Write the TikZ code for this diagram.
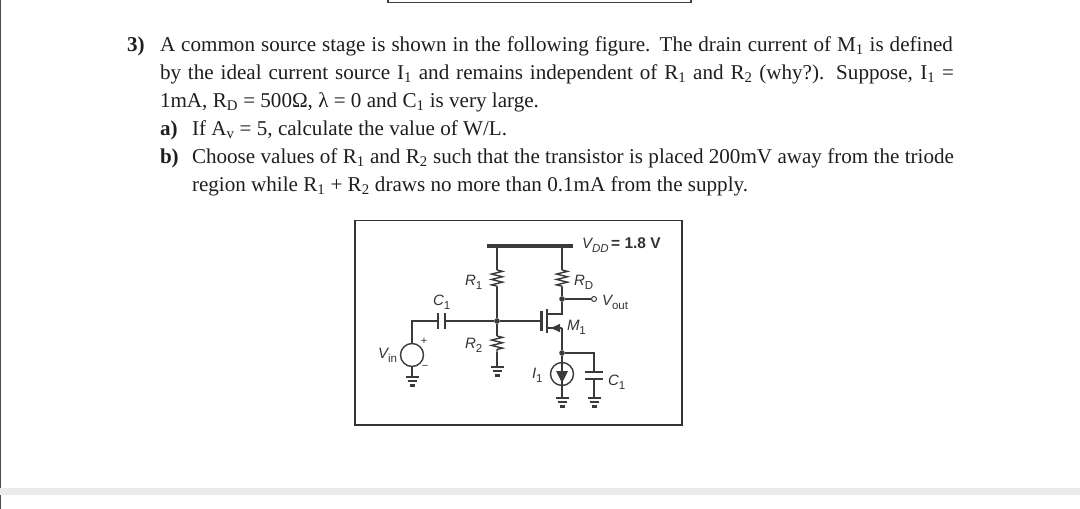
\documentclass[tikz,border=0pt]{standalone}
\usepackage{fontspec}
\setmainfont{Liberation Serif}
\newfontfamily\lblfont{Liberation Sans}
\usetikzlibrary{arrows.meta,decorations.pathmorphing}
\definecolor{wirec}{HTML}{3A3A3A}
\definecolor{inkc}{HTML}{1E1E1E}
\definecolor{lblc}{HTML}{333333}
\tikzset{
  txt/.style={anchor=base west,inner sep=0pt,outer sep=0pt,text=inkc,font=\fontsize{21.1}{26}\selectfont},
  lbl/.style={anchor=base west,inner sep=0pt,outer sep=0pt,text=lblc,font=\lblfont\fontsize{15}{17}\selectfont\itshape},
  wire/.style={draw=wirec,line width=1.4pt},
  plate/.style={draw=wirec,line width=2.6pt},
  resistor/.style={wire,decorate,decoration={zigzag,amplitude=5.5pt,segment length=5.4pt}},
  junction/.style={circle,fill=wirec,inner sep=0pt,minimum size=5.6pt},
  openpin/.style={circle,draw=wirec,fill=white,line width=1pt,inner sep=0pt,minimum size=5pt},
  source/.style={circle,draw=wirec,line width=1.4pt,inner sep=0pt,minimum size=23pt},
  gnd/.pic={
    \draw[wirec,line width=2.2pt] (-6.5,0) -- (6.5,0);
    \draw[wirec,line width=2.2pt] (-4.5,4.2) -- (4.5,4.2);
    \draw[wirec,line width=2.2pt] (-2.5,8.4) -- (2.5,8.4);
  }
}
\newcommand{\sbs}[1]{\textsubscript{#1}}
\newcommand{\lsb}[1]{\raisebox{-0.28em}{\fontsize{11.5}{13}\selectfont\upshape #1}}
\newcommand{\lsi}[1]{\raisebox{-0.28em}{\fontsize{11.5}{13}\selectfont #1}}
\begin{document}
\begin{tikzpicture}[x=1pt,y=-1pt]
\useasboundingbox (0,0) rectangle (1080,509);
% page furniture
\draw[draw=black!70,line width=1pt] (0.5,0) -- (0.5,509);
\fill[black!8] (0,487.5) rectangle (1080,495);
\draw[draw=black!75,line width=1.3pt] (388,0) -- (388,2.5) -- (691,2.5) -- (691,0);
% text
\node[txt] (num) at (127,51) {\textbf{3)}};
\node[txt] (l1) at (160,51) {\makebox[793pt][s]{A common source stage is shown in the following figure. The drain current of M\sbs{1} is defined}};
\node[txt] (l2) at (160,79) {\makebox[794pt][s]{by the ideal current source I\sbs{1} and remains independent of R\sbs{1} and R\sbs{2} (why?). Suppose, I\sbs{1} =}};
\node[txt] (l3) at (160,107) {1mA, R\sbs{D} = 500Ω, λ = 0 and C\sbs{1} is very large.};
\node[txt] (a) at (160,135) {\textbf{a)}};
\node[txt] (l4) at (192,135) {If A\sbs{v} = 5, calculate the value of W/L.};
\node[txt] (b) at (160,163) {\textbf{b)}};
\node[txt] (l5) at (192,163) {\makebox[762pt][s]{Choose values of R\sbs{1} and R\sbs{2} such that the transistor is placed 200mV away from the triode}};
\node[txt] (l6) at (192,191) {region while R\sbs{1} + R\sbs{2} draws no more than 0.1mA from the supply.};
% frame
\draw[draw=black!80,line width=1.3pt] (355,220.5) rectangle (682,425);
% coordinates
\coordinate (vddl) at (487,246); \coordinate (vddr) at (573,246);
\coordinate (r1top) at (497,246); \coordinate (rdtop) at (562,246);
\coordinate (r1a) at (497,270); \coordinate (r1b) at (497,287);
\coordinate (rda) at (562,270); \coordinate (rdb) at (562,287);
\coordinate (r2a) at (497,336); \coordinate (r2b) at (497,352);
\coordinate (gndr2) at (497,367);
\coordinate (chd) at (547,314); \coordinate (chs) at (547,328);
\coordinate (dk) at (562,314); \coordinate (sk) at (562,328);
\coordinate (gp) at (541.5,321);
\coordinate (gt) at (541.5,311); \coordinate (gbm) at (541.5,331);
\coordinate (cht) at (547,309); \coordinate (chb) at (547,333);
\coordinate (vintop) at (412,321);
\coordinate (c1l) at (438,321); \coordinate (c1r) at (445,321);
\coordinate (gndvin) at (412,377);
\coordinate (cpr) at (594,353);
\coordinate (cpt) at (594,372); \coordinate (cpb) at (594,379);
\coordinate (gndi) at (562,398); \coordinate (gndc) at (594,398);
\node[junction] (ng) at (497,321) {};
\node[junction] (nd) at (562,299) {};
\node[junction] (ns) at (562,353) {};
\node[openpin] (vo) at (594,299) {};
\node[source] (vin) at (412,355) {};
\node[source] (i1) at (562,374) {};
% supply rail
\draw[draw=wirec,line width=3.6pt] (vddl) -- (vddr);
% wires
\draw[wire] (r1top) -- (r1a);
\draw[resistor] (r1a) -- (r1b);
\draw[wire] (r1b) -- (ng);
\draw[wire] (ng) -- (r2a);
\draw[resistor] (r2a) -- (r2b);
\draw[wire] (r2b) -- (gndr2);
\draw[wire] (rdtop) -- (rda);
\draw[resistor] (rda) -- (rdb);
\draw[wire] (rdb) -- (nd);
\draw[wire] (nd) -- (vo);
\draw[wire] (nd) -- (dk) -- (chd);
\draw[wire] (ng) -- (gp);
\draw[wire] (ng) -- (c1r);
\draw[wire] (vin) -- (vintop) -- (c1l);
\draw[wire] (vin) -- (gndvin);
\draw[plate] (c1l |- 0,313) -- (c1l |- 0,329);
\draw[plate] (c1r |- 0,313) -- (c1r |- 0,329);
\draw[plate] (gt) -- (gbm);
\draw[plate] (cht) -- (chb);
\draw[wire] (sk) -- (chs);
\fill[wirec] (551,328) -- (560,323.8) -- (560,332.2) -- cycle;
\draw[wire] (sk) -- (ns);
\draw[wire] (ns) -- (i1);
\draw[wire] (i1) -- (gndi);
\draw[wire] (ns) -- (cpr) -- (cpt);
\draw[wire] (cpb) -- (gndc);
\draw[plate] (585,372) -- (603,372);
\draw[plate] (585,379) -- (603,379);
\draw[wire] (i1.north) -- (i1.south);
\fill[wirec] (556,371) -- (568,371) -- (562,383) -- cycle;
% grounds
\pic at (gndr2) {gnd};
\pic at (gndvin) {gnd};
\pic at (gndi) {gnd};
\pic at (gndc) {gnd};
% labels
\node[lbl] (lvdd) at (582,248) {V\lsi{DD}{\upshape\bfseries\fontsize{15.5}{17}\selectfont\,= 1.8 V}};
\node[lbl] (lr1) at (465,285) {R\lsb{1}};
\node[lbl] (lrd) at (574,285) {R\lsb{D}};
\node[lbl] (lvo) at (602,305) {V\lsb{out}};
\node[lbl] (lc1) at (433,305) {C\lsb{1}};
\node[lbl] (lm1) at (567,330) {M\lsb{1}};
\node[lbl] (lr2) at (465,348) {R\lsb{2}};
\node[lbl] (lvi) at (378,358) {V\lsb{in}};
\node[lbl] (li1) at (532,378) {I\lsb{1}};
\node[lbl] (lc2) at (608,385) {C\lsb{1}};
\node[lbl,anchor=center,font=\lblfont\fontsize{11}{13}\selectfont] (lp) at (424,341) {+};
\node[lbl,anchor=center,font=\lblfont\fontsize{11}{13}\selectfont] (lm) at (425,367) {−};
\end{tikzpicture}
\end{document}
